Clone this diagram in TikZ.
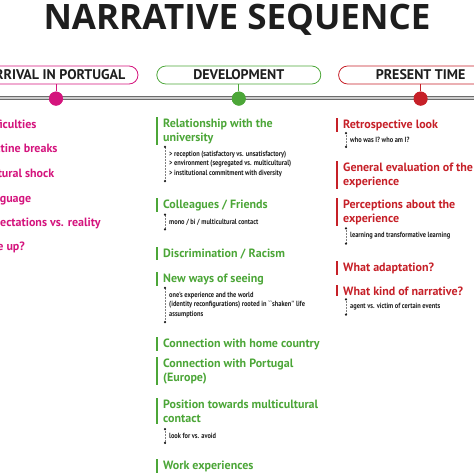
\documentclass[tikz,border=0pt]{standalone}
\usepackage{fontspec}
\setmainfont{PT Sans}
\newfontfamily\titlefont{Open Sans}
\newfontfamily\notefont[FakeStretch=0.85]{PT Sans}
\usetikzlibrary{positioning}

\definecolor{arrivalpink}{RGB}{212,20,125}
\definecolor{devgreen}{RGB}{76,166,56}
\definecolor{presentred}{RGB}{198,32,40}
\definecolor{titleblack}{RGB}{30,30,30}

\begin{document}
\begin{tikzpicture}[
    x=1pt, y=-1pt,
    node distance=18pt,
    phase_box/.style={rectangle, rounded corners=9pt, draw=#1, line width=0.8pt, minimum width=164pt, minimum height=18pt, inner sep=0pt, text=titleblack, font=\fontsize{14}{16}\selectfont\bfseries},
    phase_dot/.style={circle, fill=#1, minimum size=14pt, inner sep=0pt},
    topic/.style={anchor=base west, align=left, inner xsep=6pt, inner ysep=1pt, text=#1, font=\fontsize{12}{14.5}\selectfont\bfseries},
    detail/.style={anchor=west, align=left, inner xsep=0pt, inner ysep=4pt, text=titleblack, font=\notefont\bfseries\fontsize{7.5}{9.5}\selectfont},
    topic_bar/.style={line width=1.2pt},
    detail_bar/.style={densely dotted, line width=0.5pt, gray},
    stem/.style={line width=0.8pt},
    timeline/.style={draw=gray!85!black, line width=1.1pt, double=gray!40, double distance=1.4pt}
]
    \useasboundingbox (0,0) rectangle (474,474);
    \clip (0,0) rectangle (474,474);

    % Title
    \node[font=\titlefont\fontsize{35}{40}\selectfont\bfseries, text=titleblack, anchor=base] (title) at (237,29) {NARRATIVE SEQUENCE};

    % Phases
    \node[phase_box=arrivalpink] (arrival) at (56,75) {ARRIVAL IN PORTUGAL};
    \node[phase_box=devgreen, right=of arrival] (development) {DEVELOPMENT};
    \node[phase_box=presentred, right=17pt of development] (present) {PRESENT TIME};

    \node[phase_dot=arrivalpink, below=7pt of arrival] (arrival_dot) {};
    \node[phase_dot=devgreen, below=7pt of development] (development_dot) {};
    \node[phase_dot=presentred, below=7pt of present] (present_dot) {};

    % Timeline
    \coordinate (tl_start) at (0,98);
    \coordinate (tl_end) at (474,98);
    \draw[timeline] (tl_start) -- (tl_end);
    \draw[stem, arrivalpink] (arrival) -- (arrival_dot);
    \draw[stem, devgreen] (development) -- (development_dot);
    \draw[stem, presentred] (present) -- (present_dot);
    \node[phase_dot=arrivalpink] at (arrival_dot) {};
    \node[phase_dot=devgreen] at (development_dot) {};
    \node[phase_dot=presentred] at (present_dot) {};

    % Arrival column
    \node[topic=arrivalpink] (diff) at (-25,128) {Difficulties};
    \node[topic=arrivalpink] (routine) at (-25,152) {Routine breaks};
    \node[topic=arrivalpink] (shock) at (-25,177) {Cultural shock};
    \node[topic=arrivalpink] (lang) at (-25,202) {Language};
    \node[topic=arrivalpink] (expect) at (-25,226) {Expectations vs. reality};
    \node[topic=arrivalpink] (giveup) at (-25,250) {Give up?};

    % Development column (two-line topics sit on their last line)
    \node[topic=devgreen] (univ) at (157,141.5) {Relationship with the\\university};
    \node[detail] (univ_note) at (169,164) {> reception (satisfactory vs. unsatisfactory)\\> environment (segregated vs. multicultural)\\> institutional commitment with diversity};
    \node[topic=devgreen] (friends) at (157,208) {Colleagues / Friends};
    \node[detail] (friends_note) at (169,222) {mono / bi / multicultural contact};
    \node[topic=devgreen] (racism) at (157,257) {Discrimination / Racism};
    \node[topic=devgreen] (seeing) at (157,282) {New ways of seeing};
    \node[detail] (seeing_note) at (169,305) {one's experience and the world\\(identity reconfigurations) rooted in ``shaken'' life\\assumptions};
    \node[topic=devgreen] (home) at (157,347) {Connection with home country};
    \node[topic=devgreen] (portugal) at (157,381.5) {Connection with Portugal\\(Europe)};
    \node[topic=devgreen] (contact) at (157,422.5) {Position towards multicultural\\contact};
    \node[detail] (contact_note) at (169,436) {look for vs. avoid};
    \node[topic=devgreen] (work) at (157,469) {Work experiences};

    % Present column
    \node[topic=presentred] (retro) at (337,128) {Retrospective look};
    \node[detail] (retro_note) at (350,140) {who was I? who am I?};
    \node[topic=presentred] (evaluation) at (337,185.5) {General evaluation of the\\experience};
    \node[topic=presentred] (perception) at (337,222.5) {Perceptions about the\\experience};
    \node[detail] (perception_note) at (350,236) {learning and transformative learning};
    \node[topic=presentred] (adaptation) at (337,271) {What adaptation?};
    \node[topic=presentred] (narrative) at (337,295) {What kind of narrative?};
    \node[detail] (narrative_note) at (350,307) {agent vs. victim of certain events};

    % Bars
    \foreach \n/\c in {univ/devgreen, friends/devgreen, racism/devgreen, seeing/devgreen, home/devgreen, portugal/devgreen, contact/devgreen, work/devgreen, retro/presentred, evaluation/presentred, perception/presentred, adaptation/presentred, narrative/presentred}
        \draw[topic_bar, \c] (\n.north west) -- (\n.south west);
    \foreach \n in {univ_note, friends_note, seeing_note, contact_note, retro_note, perception_note, narrative_note} {
        \draw[detail_bar] ([xshift=-4pt]\n.north west) -- ([xshift=-4pt]\n.south west);
        \fill[titleblack] ([xshift=-4pt]\n.north west) circle (1.2pt) ([xshift=-4pt]\n.south west) circle (1.2pt);
    }
\end{tikzpicture}
\end{document}
